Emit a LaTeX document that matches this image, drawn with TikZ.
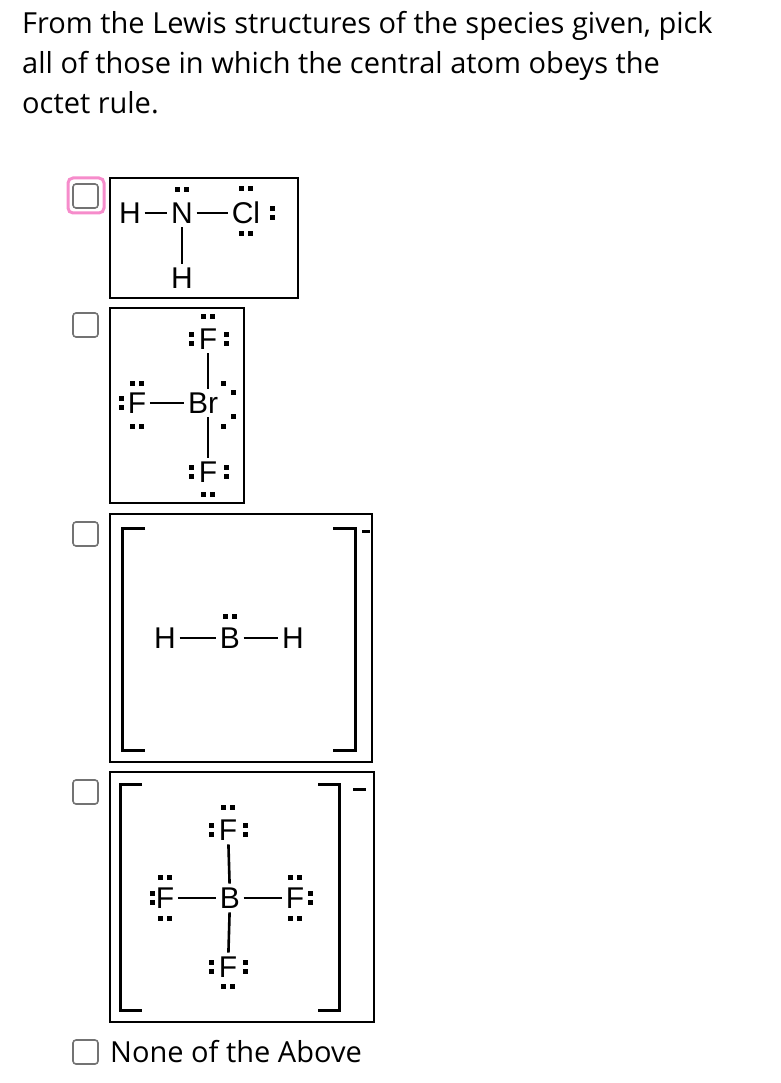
\documentclass[tikz,border=0pt]{standalone}
\usepackage{fontspec}
\setmainfont{Open Sans}
\newfontfamily\lewisfont{Liberation Sans}
\usetikzlibrary{calc}
\tikzset{
  atom/.style={font=\lewisfont\fontsize{30}{30}\selectfont, inner sep=0pt, text height=21.5pt, text depth=0pt},
  bond/.style={line width=2.6pt, shorten <=3.5pt, shorten >=3.5pt},
  frame/.style={line width=2pt},
  brk/.style={line width=3pt},
  cbox/.style={draw=black!55, line width=1.6pt, rounded corners=3pt},
  chg/.style={line width=3pt},
}
\newcommand\hp[1]{\fill ($#1+(-7,-2.5)$) rectangle ++(5,5); \fill ($#1+(2,-2.5)$) rectangle ++(5,5);}
\newcommand\vp[1]{\fill ($#1+(-2.5,-7)$) rectangle ++(5,5); \fill ($#1+(-2.5,2)$) rectangle ++(5,5);}
\newcommand\sd[1]{\fill ($#1+(-2.5,-2.5)$) rectangle ++(5,5);}
\begin{document}
\begin{tikzpicture}[x=1pt,y=-1pt]
\useasboundingbox (0,0) rectangle (780,1083);
% question
\node[anchor=north west, inner sep=0pt, align=left, font=\fontsize{29}{40}\selectfont] (q) at (22,11)
 {From the Lewis structures of the species given, pick\\all of those in which the central atom obeys the\\octet rule.};
% checkboxes
\draw[draw=magenta!45, line width=3pt, rounded corners=5pt] (68,178) rectangle (104,213);
\draw[cbox] (73,184) rectangle (98,208);
\draw[cbox] (73,313) rectangle (98,337);
\draw[cbox] (73,522) rectangle (98,546);
\draw[cbox] (73,780) rectangle (98,804);
\draw[cbox] (73,1040) rectangle (98,1064);
% box 1: NH2Cl
\draw[frame] (110,178) rectangle (298,298);
\node[atom] (h1) at (130,213) {H};
\node[atom] (n) at (182,213) {N};
\node[atom] (cl) at (246,213) {Cl};
\node[atom] (h2) at (182,278) {H};
\draw[bond] (h1) -- (n);
\draw[bond] (n) -- (cl);
\draw[bond] (n) -- (h2);
\hp{(182,190)}
\hp{(246,189)}
\hp{(246,234)}
\vp{(272,213)}
% box 2: BrF3
\draw[frame] (110,308) rectangle (244,503);
\node[atom] (f1) at (208,339) {F};
\node[atom] (f2) at (137,403) {F};
\node[atom] (br) at (203,403) {Br};
\node[atom] (f3) at (208,472) {F};
\draw[bond] (f1) -- (f1|-br.north);
\draw[bond] (f2) -- (br);
\draw[bond] (f3|-br.south) -- (f3);
\hp{(208,316)}
\vp{(191,339)} \vp{(226,339)}
\hp{(137,383)} \hp{(137,426)} \vp{(121,403)}
\sd{(223,383)} \sd{(233,392)} \sd{(233,416)} \sd{(223,426)}
\vp{(191,472)} \vp{(226,472)}
\hp{(208,494)}
% box 3: BH2-
\draw[frame] (110,514) rectangle (372,762);
\draw[brk] (145,528) -- (122,528) -- (122,750) -- (145,750);
\draw[brk] (333,528) -- (355,528) -- (355,750) -- (333,750);
\draw[chg] (362,531) -- (370,531);
\node[atom] (ha) at (165,638) {H};
\node[atom] (b1) at (230,638) {B};
\node[atom] (hb) at (293,638) {H};
\draw[bond] (ha) -- (b1);
\draw[bond] (b1) -- (hb);
\hp{(230,616)}
% box 4: BF4-
\draw[frame] (110,772) rectangle (374,1022);
\draw[brk] (142,784) -- (120,784) -- (120,1010) -- (142,1010);
\draw[brk] (318,784) -- (339,784) -- (339,1010) -- (318,1010);
\draw[chg] (353,789) -- (366,789);
\node[atom] (ft) at (228,830) {F};
\node[atom] (fl) at (165,898) {F};
\node[atom] (b2) at (230,898) {B};
\node[atom] (fr) at (295,898) {F};
\node[atom] (fb) at (228,967) {F};
\draw[bond] (ft) -- (b2);
\draw[bond] (fl) -- (b2);
\draw[bond] (b2) -- (fr);
\draw[bond] (b2) -- (fb);
\hp{(228,807)} \vp{(211,830)} \vp{(245,830)}
\hp{(165,877)} \hp{(165,918)} \vp{(152,898)}
\hp{(295,877)} \hp{(295,918)} \vp{(310,898)}
\vp{(211,967)} \vp{(245,967)} \hp{(228,986)}
% none
\node[anchor=base west, inner sep=0pt, font=\fontsize{29}{32}\selectfont] (none) at (110,1062) {None of the Above};
\end{tikzpicture}
\end{document}
